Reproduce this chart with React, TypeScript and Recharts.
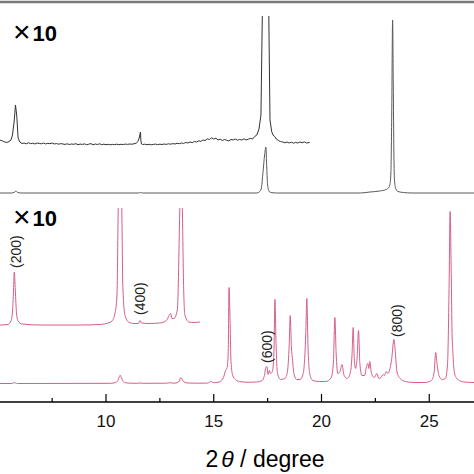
import React from 'react';
import { LineChart, Line, XAxis, YAxis, ReferenceLine, ReferenceDot } from 'recharts';

// 2θ range visible in the figure
const THETA_MIN = 5.081;
const THETA_MAX = 27.077;
const xTicks = [7.5, 10, 12.5, 15, 17.5, 20, 22.5, 25];

// Reference sample (black), ×1 scan: [2θ, intensity]
const black1: [number, number][] = [
  [5.08, 0], [5.6, 0], [5.75, 0.8], [5.82, 2], [5.9, 0.5], [6.1, 0], [11.5, 0], [11.6, 0.5], [11.7, 0],
  [17.0, 0], [17.1, 1], [17.2, 4], [17.29, 22], [17.36, 38], [17.42, 46], [17.46, 25], [17.5, 8], [17.57, 1.5], [17.7, 0.3], [17.9, 0],
  [21.8, 0], [22.25, 1], [22.7, 2], [23.0, 3.5], [23.1, 5], [23.17, 8], [23.22, 20], [23.26, 80], [23.3, 173], [23.33, 110],
  [23.36, 40], [23.39, 12], [23.45, 4], [23.55, 1.5], [23.8, 0.5], [24.2, 0], [27.08, 0],
];

// Reference sample (black), ×10 scan (values in ×1 units)
const black10: [number, number][] = [
  [5.08, 0.5], [5.2, 0.4], [5.3, 0.3], [5.4, 0.25], [5.5, 0.35], [5.59, 0.5], [5.66, 1.0], [5.74, 2.4], [5.8, 4.0], [5.86, 2.9], [5.92, 0.7],
  [6.0, 0.3], [6.1, 0.15], [6.2, 0.2], [6.3, 0.12], [6.4, 0.22], [6.5, 0.14], [6.6, 0.18], [6.7, 0.1], [6.8, 0.2], [6.9, 0.16],
  [7.0, 0.12], [7.1, 0.19], [7.2, 0.11], [7.3, 0.17], [7.4, 0.13], [7.5, 0.2], [7.6, 0.1], [7.7, 0.15], [7.8, 0.08], [7.9, 0.14],
  [8.0, 0.1], [8.1, 0.06], [8.2, 0.12], [8.3, 0.05], [8.4, 0.1], [8.5, 0.07], [8.6, 0.13], [8.7, 0.04], [8.8, 0.09], [8.9, 0.06],
  [9.0, 0.11], [9.1, 0.03], [9.2, 0.08], [9.3, 0.14], [9.4, 0.02], [9.5, 0.1], [9.6, 0.05], [9.7, 0.12], [9.8, 0.04], [9.9, 0.08],
  [10.0, 0.03], [10.1, 0.07], [10.2, 0.02], [10.3, 0.06], [10.4, 0.04], [10.5, 0.08], [10.6, 0.03], [10.7, 0.07], [10.8, 0.05], [10.9, 0.09],
  [11.0, 0.06], [11.1, 0.1], [11.2, 0.08], [11.3, 0.12], [11.4, 0.18], [11.48, 0.35], [11.54, 0.7], [11.6, 1.3], [11.62, 0.4], [11.65, 0.1],
  [11.7, 0.05], [11.8, 0.08], [11.9, 0.03], [12.0, 0.07], [12.1, 0.02], [12.2, 0.06], [12.3, 0.09], [12.4, 0.04], [12.5, 0.08], [12.6, 0.05],
  [12.7, 0.1], [12.8, 0.06], [12.9, 0.12], [13.0, 0.08], [13.1, 0.14], [13.2, 0.1], [13.3, 0.17], [13.4, 0.13], [13.5, 0.2], [13.6, 0.16],
  [13.7, 0.25], [13.8, 0.2], [13.9, 0.3], [14.0, 0.24], [14.1, 0.35], [14.2, 0.3], [14.3, 0.42], [14.4, 0.36], [14.5, 0.5], [14.6, 0.45],
  [14.7, 0.62], [14.8, 0.55], [14.9, 0.72], [15.0, 0.6], [15.1, 0.68], [15.2, 0.5], [15.3, 0.58], [15.4, 0.45], [15.5, 0.55], [15.6, 0.48],
  [15.7, 0.4], [15.8, 0.56], [15.9, 0.5], [16.0, 0.6], [16.1, 0.48], [16.2, 0.55], [16.3, 0.5], [16.4, 0.62], [16.5, 0.5], [16.6, 0.58],
  [16.7, 0.66], [16.8, 0.6], [16.9, 0.85], [17.0, 1.0], [17.1, 1.6], [17.19, 3], [17.26, 14], [17.42, 47], [17.55, 14], [17.61, 2.5],
  [17.69, 1.33], [17.75, 1.0], [17.84, 0.83], [17.9, 0.6], [18.0, 0.45], [18.1, 0.35], [18.2, 0.3], [18.3, 0.22], [18.4, 0.3], [18.5, 0.2],
  [18.6, 0.28], [18.7, 0.18], [18.8, 0.26], [18.9, 0.2], [19.0, 0.3], [19.1, 0.22], [19.2, 0.32], [19.3, 0.2], [19.45, 0.25],
];

// Sample (pink), ×1 scan
const pink1: [number, number][] = [
  [5.08, 0], [5.6, 0], [5.7, 0.5], [5.75, 1.2], [5.8, 0.5], [5.9, 0],
  [10.2, 0.2], [10.45, 1], [10.55, 3], [10.62, 7], [10.66, 8.3], [10.71, 6], [10.77, 3], [10.87, 1], [11.05, 0.4], [11.4, 0.2], [11.58, 0.5], [11.7, 0.2],
  [12.8, 0.3], [12.98, 0.8], [13.1, 0.3], [13.3, 0.8], [13.4, 2.5], [13.48, 6], [13.54, 4], [13.62, 1.5], [13.8, 0.5], [14.3, 0.3],
  [14.7, 0.4], [14.82, 1.5], [14.87, 2.5], [14.93, 1.2], [15.05, 0.8], [15.25, 1.5], [15.45, 6], [15.55, 13], [15.62, 16], [15.67, 30],
  [15.71, 96], [15.76, 60], [15.8, 22], [15.88, 8], [16.0, 4], [16.2, 2], [16.6, 1.2], [17.0, 1.5],
  [17.25, 3], [17.35, 8], [17.42, 16], [17.47, 17], [17.52, 9], [17.58, 13], [17.63, 10], [17.72, 12], [17.79, 30], [17.84, 84],
  [17.89, 40], [17.96, 10], [18.1, 4], [18.3, 5], [18.42, 12], [18.5, 38], [18.55, 68], [18.6, 38], [18.65, 25], [18.72, 10],
  [18.85, 4], [19.0, 4], [19.15, 10], [19.22, 25], [19.27, 50], [19.32, 85], [19.37, 40], [19.45, 10], [19.6, 3], [19.9, 2],
  [20.2, 2], [20.45, 6], [20.55, 20], [20.62, 66], [20.68, 30], [20.76, 10], [20.86, 12], [20.95, 19], [21.05, 8], [21.2, 5],
  [21.35, 12], [21.42, 30], [21.47, 56], [21.52, 25], [21.58, 15], [21.65, 25], [21.72, 53], [21.78, 20], [21.88, 8], [22.0, 8],
  [22.1, 18], [22.15, 20], [22.2, 15], [22.24, 22], [22.32, 10], [22.45, 6], [22.57, 10], [22.66, 5], [22.76, 6], [22.86, 9],
  [22.92, 8], [23.0, 12], [23.08, 10], [23.18, 15], [23.26, 25], [23.36, 44], [23.43, 30], [23.5, 12], [23.65, 5], [23.9, 2],
  [24.3, 1], [24.8, 1], [25.1, 3], [25.22, 10], [25.3, 31], [25.36, 20], [25.45, 8], [25.6, 4], [25.75, 5], [25.85, 20],
  [25.92, 95], [25.97, 172], [26.02, 110], [26.06, 50], [26.1, 30], [26.16, 12], [26.25, 6], [26.4, 3], [26.6, 1.5], [27.08, 1],
];

// Sample (pink), ×10 scan (values in ×1 units)
const pink10: [number, number][] = [
  [5.08, 0.05], [5.45, 0.1], [5.59, 0.45], [5.66, 1.35], [5.71, 3.55], [5.745, 5.35], [5.79, 3.55], [5.85, 1.15], [5.92, 0.45],
  [6.1, 0.15], [6.94, 0.05], [8.8, 0.05], [9.72, 0.1], [10.09, 0.25], [10.28, 0.45], [10.42, 1.25], [10.51, 3.05], [10.57, 12],
  [10.65, 16], [10.73, 12], [10.78, 4], [10.88, 1.05], [11.05, 0.35], [11.3, 0.2], [11.5, 0.2], [11.58, 0.5], [11.65, 0.25],
  [12.0, 0.2], [12.5, 0.25], [12.8, 0.5], [12.93, 1.0], [13.0, 1.2], [13.06, 0.7], [13.15, 0.7], [13.31, 1.55], [13.43, 12],
  [13.48, 16], [13.54, 12], [13.6, 4], [13.66, 1.05], [13.85, 0.35], [14.1, 0.3], [14.36, 0.35],
];

// Miller index labels: [label, 2θ, label foot height]
const hklLabels: [string, number, number][] = [
  ['(200)', 5.82, 134],
  ['(400)', 11.59, 87],
  ['(600)', 17.47, 39],
  ['(800)', 23.51, 65],
];

const SCALE10 = 10;
const BASE_BLACK10 = 257;
const BASE_BLACK1 = 209;
const BASE_PINK10 = 76.5;
const BASE_PINK1 = 18.5;

const toRows = (arr: [number, number][], base: number, scale: number) =>
  arr.map(([x, v]) => ({ x, y: base + v * scale }));

const black1Rows = toRows(black1, BASE_BLACK1, 1);
const black10Rows = toRows(black10, BASE_BLACK10, SCALE10);
const pink1Rows = toRows(pink1, BASE_PINK1, 1);
const pink10Rows = toRows(pink10, BASE_PINK10, SCALE10);

const FONT = 'Liberation Sans, Arial, sans-serif';
const BLACK = '#5a5a5a';
const PINK = '#d85c86';

const Tick = (props: any) => {
  const { x, y, payload } = props;
  const v = payload.value;
  const major = v % 5 === 0;
  return (
    <g>
      <line x1={x} x2={x} y1={y} y2={y - (major ? 8 : 4)} stroke="#000" strokeWidth={1.2} />
      {major && (
        <text x={x} y={y + 25} textAnchor="middle" fontSize={17} fontFamily={FONT} fill="#111">
          {v}
        </text>
      )}
    </g>
  );
};

const HklShape = (label: string) => (p: any) => (
  <text
    transform={`translate(${p.cx},${p.cy}) rotate(-90)`}
    x={0}
    y={0}
    dominantBaseline="central"
    fontSize={14}
    fontFamily={FONT}
    fill="#222"
  >
    {label}
  </text>
);

const W = 474;

const TimesTen = ({ y }: { y: number }) => (
  <text x={13} y={y} fontFamily={FONT} fill="#000">
    <tspan fontSize={30} fontWeight="normal" dy={1}>×</tspan>
    <tspan fontSize={22} fontWeight="bold" dx={2} dy={-1}>10</tspan>
  </text>
);

export default function App() {
  return (
    <div style={{ position: 'absolute', left: 0, top: 0, width: W, height: 474, background: '#fff', overflow: 'hidden' }}>
      <div style={{ position: 'absolute', left: 0, top: 0 }}>
        <LineChart width={W} height={474} margin={{ top: 2, right: 0, left: 0, bottom: 0 }}>
          <XAxis
            type="number"
            dataKey="x"
            domain={[THETA_MIN, THETA_MAX]}
            allowDataOverflow
            ticks={xTicks}
            interval={0}
            tick={<Tick />}
            tickLine={false}
            tickSize={0}
            tickMargin={0}
            axisLine={{ stroke: '#000', strokeWidth: 1.3 }}
            height={72}
          />
          <YAxis hide type="number" domain={[0, 400]} allowDataOverflow />
          <ReferenceLine y={400} stroke="#7a7a7a" strokeWidth={2.5} />
          <Line data={black1Rows} dataKey="y" type="monotone" stroke={BLACK} strokeWidth={1} dot={false} isAnimationActive={false} />
          <Line data={pink1Rows} dataKey="y" type="monotone" stroke={PINK} strokeWidth={1} dot={false} isAnimationActive={false} />
          {hklLabels.map(([label, x, y]) => (
            <ReferenceDot key={label} x={x} y={y} r={0} shape={HklShape(label)} />
          ))}
        </LineChart>
      </div>
      <div style={{ position: 'absolute', left: 0, top: 16 }}>
        <LineChart width={W} height={386} margin={{ top: 0, right: 0, left: 0, bottom: 0 }}>
          <XAxis hide type="number" dataKey="x" domain={[THETA_MIN, THETA_MAX]} allowDataOverflow />
          <YAxis hide type="number" domain={[0, 386]} allowDataOverflow />
          <Line data={black10Rows} dataKey="y" type="linear" stroke="#333" strokeWidth={1} dot={false} isAnimationActive={false} />
        </LineChart>
      </div>
      <div style={{ position: 'absolute', left: 0, top: 208 }}>
        <LineChart width={W} height={194} margin={{ top: 0, right: 0, left: 0, bottom: 0 }}>
          <XAxis hide type="number" dataKey="x" domain={[THETA_MIN, THETA_MAX]} allowDataOverflow />
          <YAxis hide type="number" domain={[0, 194]} allowDataOverflow />
          <Line data={pink10Rows} dataKey="y" type="monotone" stroke={PINK} strokeWidth={1} dot={false} isAnimationActive={false} />
        </LineChart>
      </div>
      <svg width={W} height={474} style={{ position: 'absolute', left: 0, top: 0, pointerEvents: 'none' }}>
        <TimesTen y={41} />
        <TimesTen y={226} />
        <text x={265} y={467} textAnchor="middle" fontSize={23} fontFamily={FONT} fill="#000">
          2<tspan fontStyle="italic" dx={3}>θ</tspan> / degree
        </text>
      </svg>
    </div>
  );
}
